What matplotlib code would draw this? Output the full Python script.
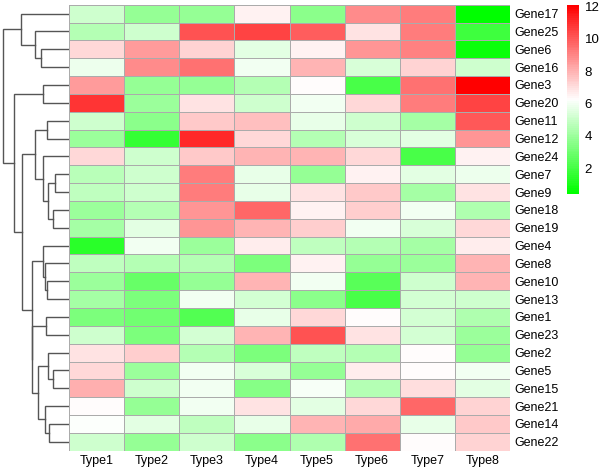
import numpy as np
import matplotlib
matplotlib.use("Agg")
import matplotlib.pyplot as plt
from matplotlib.colors import LinearSegmentedColormap, Normalize
from matplotlib.cm import ScalarMappable

plt.rcParams['font.family'] = ['Liberation Sans', 'DejaVu Sans']

genes = ['Gene17', 'Gene25', 'Gene6', 'Gene16', 'Gene3', 'Gene20', 'Gene11', 'Gene12',
         'Gene24', 'Gene7', 'Gene9', 'Gene18', 'Gene19', 'Gene4', 'Gene8', 'Gene10',
         'Gene13', 'Gene1', 'Gene23', 'Gene2', 'Gene5', 'Gene15', 'Gene21', 'Gene14', 'Gene22']
types = ['Type1', 'Type2', 'Type3', 'Type4', 'Type5', 'Type6', 'Type7', 'Type8']

# expression values, one row per gene (same order as genes)
values = [
    [5.1, 3.9, 3.8, 6.6, 3.6, 8.9, 9.2, 0.4],
    [4.5, 5.1, 10.2, 10.5, 9.9, 6.95, 9.2, 1.85],
    [7.1, 8.5, 7.2, 5.55, 6.5, 8.6, 9.1, 0.7],
    [5.85, 8.9, 9.5, 5.95, 7.9, 5.4, 7.3, 5.1],
    [8.5, 3.8, 3.8, 4.5, 6.25, 2.15, 9.5, 12.1],
    [10.9, 4.0, 6.85, 5.1, 5.95, 7.1, 9.2, 10.5],
    [5.1, 3.6, 7.5, 7.7, 5.7, 5.1, 4.2, 10.05],
    [4.0, 1.6, 11.05, 7.1, 4.5, 5.4, 5.55, 8.7],
    [7.1, 5.1, 7.5, 8.0, 8.0, 7.1, 2.15, 6.55],
    [4.7, 5.1, 9.2, 5.7, 3.9, 6.6, 5.55, 5.8],
    [4.8, 5.1, 9.2, 5.7, 6.95, 7.5, 4.2, 6.95],
    [4.0, 4.5, 8.7, 9.75, 6.55, 7.4, 5.95, 4.4],
    [4.2, 5.55, 8.6, 8.0, 7.4, 5.95, 5.4, 7.1],
    [1.45, 5.95, 4.0, 6.65, 4.8, 4.5, 4.2, 6.65],
    [4.8, 4.6, 4.5, 3.3, 6.55, 3.8, 4.0, 8.0],
    [4.0, 2.75, 3.9, 7.9, 5.95, 2.45, 5.1, 8.0],
    [4.2, 3.3, 5.95, 5.2, 3.6, 2.05, 5.2, 5.1],
    [3.3, 3.0, 2.3, 5.7, 7.1, 6.25, 5.2, 4.4],
    [5.1, 3.3, 5.2, 8.0, 10.2, 6.85, 5.2, 4.0],
    [6.85, 7.4, 4.6, 3.3, 4.8, 4.5, 6.35, 3.8],
    [7.1, 4.0, 5.9, 5.4, 3.8, 6.7, 6.35, 5.95],
    [8.1, 5.1, 5.95, 3.45, 6.1, 4.5, 7.0, 5.55],
    [6.35, 3.9, 5.95, 6.85, 5.55, 7.1, 9.65, 7.2],
    [6.15, 5.55, 4.8, 5.7, 8.0, 8.2, 5.7, 7.5],
    [5.1, 3.8, 5.1, 3.6, 4.4, 9.5, 6.3, 7.3],
]

# row clustering: (node, left child, right child, merge height)
merges = [
    ('n1', 'Gene6', 'Gene16', 27.7),
    ('n2', 'Gene25', 'n1', 34.3),
    ('n3', 'Gene17', 'n2', 48.3),
    ('n4', 'Gene3', 'Gene20', 25.7),
    ('n5', 'Gene11', 'Gene12', 21.7),
    ('n6', 'Gene7', 'Gene9', 14.0),
    ('n7', 'Gene18', 'Gene19', 15.7),
    ('n8', 'n6', 'n7', 20.7),
    ('n9', 'Gene24', 'n8', 25.7),
    ('n10', 'n5', 'n9', 34.3),
    ('n11', 'Gene10', 'Gene13', 22.3),
    ('n12', 'Gene8', 'n11', 24.0),
    ('n13', 'Gene4', 'n12', 25.7),
    ('n14', 'Gene1', 'Gene23', 23.0),
    ('n15', 'Gene5', 'Gene15', 15.7),
    ('n16', 'Gene2', 'n15', 20.7),
    ('n17', 'Gene14', 'Gene22', 19.7),
    ('n18', 'Gene21', 'n17', 24.0),
    ('n19', 'n16', 'n18', 30.7),
    ('n20', 'n14', 'n19', 36.7),
    ('n21', 'n13', 'n20', 37.3),
    ('n22', 'n10', 'n21', 47.3),
    ('n23', 'n4', 'n22', 55.3),
    ('root', 'n3', 'n23', 66.0),
]

data = np.array(values)
cmap = LinearSegmentedColormap.from_list('gwr', ['#00FF00', '#FFFFFF', '#FF0000'], N=100)
norm = Normalize(vmin=data.min(), vmax=data.max())

W, H = 600, 471
fig = plt.figure(figsize=(W / 100, H / 100), dpi=100)

# heatmap
left, right, top, bottom = 69, 510, 4.7, 450.7
ax = fig.add_axes([left / W, 1 - bottom / H, (right - left) / W, (bottom - top) / H])
ax.pcolormesh(data, cmap=cmap, norm=norm, edgecolors='#ABABAB', linewidth=0.6)
ax.set_xlim(0, len(types))
ax.set_ylim(len(genes), 0)
ax.set_xticks(np.arange(len(types)) + 0.5)
ax.set_xticklabels(types, fontsize=9)
ax.set_yticks(np.arange(len(genes)) + 0.5)
ax.set_yticklabels(genes, fontsize=9)
ax.yaxis.tick_right()
ax.tick_params(length=0, pad=3)
for s in ax.spines.values():
    s.set_visible(False)

# dendrogram
dax = fig.add_axes([0, 1 - bottom / H, left / W, (bottom - top) / H])
pos = {g: (0.0, i + 0.5) for i, g in enumerate(genes)}
for node, a, b, h in merges:
    xa, ya = pos[a]
    xb, yb = pos[b]
    dax.plot([xa, h, h, xb], [ya, ya, yb, yb], color='#555555', lw=1, solid_joinstyle='miter')
    pos[node] = (h, (ya + yb) / 2)
dax.set_xlim(69, 0)
dax.set_ylim(len(genes), 0)
dax.axis('off')

# colour bar
cax = fig.add_axes([567 / W, 1 - 194 / H, 12 / W, 189 / H])
cb = fig.colorbar(ScalarMappable(norm=norm, cmap=cmap), cax=cax, ticks=[2, 4, 6, 8, 10, 12])
cb.outline.set_visible(False)
cax.tick_params(length=0, pad=4, labelsize=9.5)

fig.savefig('out.png', dpi=100)
